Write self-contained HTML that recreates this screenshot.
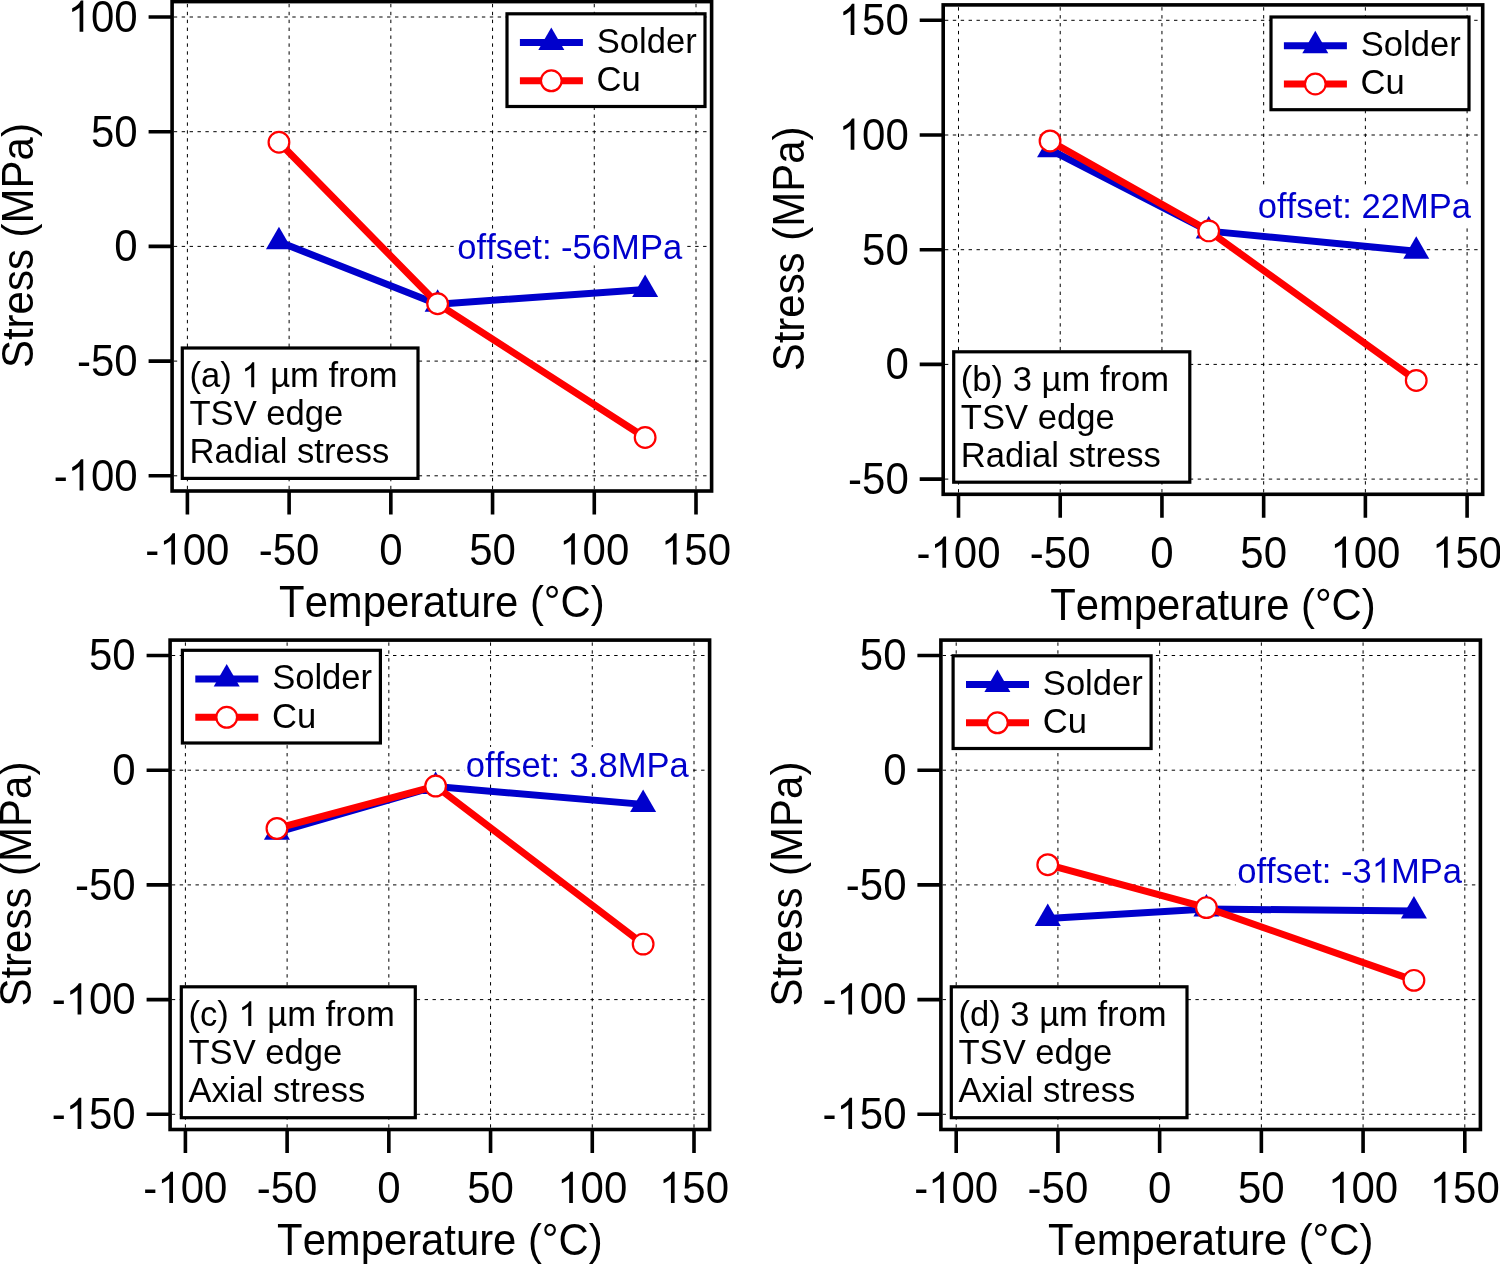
<!DOCTYPE html>
<html><head><meta charset="utf-8"><title>Stress vs Temperature</title>
<style>html,body{margin:0;padding:0;background:#fff;}body{width:1500px;height:1264px;overflow:hidden;font-family:"Liberation Sans",sans-serif;}svg{display:block;will-change:transform;}text{font-kerning:none;font-feature-settings:"kern" 0;}</style>
</head><body>
<svg width="1500" height="1264" viewBox="0 0 1500 1264" font-family='&quot;Liberation Sans&quot;, sans-serif'>
<rect width="1500" height="1264" fill="#fff"/>
<g stroke="#000" stroke-width="1" stroke-dasharray="3.4 4.5"><line x1="187.4" y1="3.9" x2="187.4" y2="489.2"/><line x1="289.12" y1="3.9" x2="289.12" y2="489.2"/><line x1="390.84" y1="3.9" x2="390.84" y2="489.2"/><line x1="492.56" y1="3.9" x2="492.56" y2="489.2"/><line x1="594.28" y1="3.9" x2="594.28" y2="489.2"/><line x1="696" y1="3.9" x2="696" y2="489.2"/><line x1="173.8" y1="17" x2="709.8" y2="17"/><line x1="173.8" y1="131.7" x2="709.8" y2="131.7"/><line x1="173.8" y1="246.4" x2="709.8" y2="246.4"/><line x1="173.8" y1="361.1" x2="709.8" y2="361.1"/><line x1="173.8" y1="475.8" x2="709.8" y2="475.8"/></g>
<rect x="455.8" y="229.4" width="227.89" height="36" fill="#fff"/>
<g transform="translate(457.31 259.4)" fill="#0000cc"><text font-size="34.6">offset: -56MPa</text></g>
<polyline points="278.95,241.81 437.63,304.21 645.14,289.53" fill="none" stroke="#0000cc" stroke-width="7" stroke-linejoin="round"/>
<path d="M278.95 226.81L291.95 249.31L265.95 249.31Z" fill="#0000cc"/>
<path d="M437.63 289.21L450.63 311.71L424.63 311.71Z" fill="#0000cc"/>
<path d="M645.14 274.53L658.14 297.03L632.14 297.03Z" fill="#0000cc"/>
<polyline points="278.95,142.25 437.63,303.75 645.14,437.49" fill="none" stroke="#ff0000" stroke-width="7" stroke-linejoin="round"/>
<circle cx="278.95" cy="142.25" r="10.35" fill="#fff" stroke="#ff0000" stroke-width="2.2"/>
<circle cx="437.63" cy="303.75" r="10.35" fill="#fff" stroke="#ff0000" stroke-width="2.2"/>
<circle cx="645.14" cy="437.49" r="10.35" fill="#fff" stroke="#ff0000" stroke-width="2.2"/>
<rect x="507" y="13.8" width="198" height="92.7" fill="#fff" stroke="#000" stroke-width="3.2"/>
<line x1="519.9" y1="42.5" x2="582.9" y2="42.5" stroke="#0000cc" stroke-width="7"/>
<path d="M551.3 27.5L564.3 50L538.3 50Z" fill="#0000cc"/>
<line x1="519.9" y1="80.8" x2="582.9" y2="80.8" stroke="#ff0000" stroke-width="7"/>
<circle cx="551.3" cy="80.8" r="10.35" fill="#fff" stroke="#ff0000" stroke-width="2.2"/>
<text x="596.74" y="52.9" font-size="34.6">Solder</text>
<text x="596.57" y="91.1" font-size="34.6">Cu</text>
<rect x="182.3" y="348" width="235.7" height="130.4" fill="#fff" stroke="#000" stroke-width="3.2"/>
<g transform="translate(189.45 387.2)"><text font-size="34.6">(a)   µm from</text><path d="M64.79 0L61.75 0L61.75 -19.38Q60.65 -18.33 58.87 -17.28Q57.09 -16.24 55.67 -15.71L55.67 -18.65Q58.22 -19.85 60.13 -21.56Q62.04 -23.26 62.83 -24.87L64.79 -24.87Z"/></g>
<g transform="translate(189.45 425.3)"><text font-size="34.6">TSV edge</text></g>
<g transform="translate(189.45 463.4)"><text font-size="34.6">Radial stress</text></g>
<rect x="172.1" y="1.6" width="539.5" height="489.4" fill="none" stroke="#000" stroke-width="3.6"/>
<path d="M187.4 491V514.5M289.12 491V514.5M390.84 491V514.5M492.56 491V514.5M594.28 491V514.5M696 491V514.5M172.1 17H148.6M172.1 131.7H148.6M172.1 246.4H148.6M172.1 361.1H148.6M172.1 475.8H148.6" stroke="#000" stroke-width="3.6" fill="none"/>
<g transform="translate(145.37 564.5) scale(1 1.035)"><text font-size="42">- 00</text><path d="M29.63 0L25.94 0L25.94 -23.52Q24.61 -22.25 22.45 -20.98Q20.28 -19.71 18.56 -19.07L18.56 -22.64Q21.66 -24.1 23.97 -26.17Q26.29 -28.24 27.25 -30.19L29.63 -30.19Z"/></g>
<g transform="translate(258.77 564.5) scale(1 1.035)"><text font-size="42">-50</text></g>
<g transform="translate(379.16 564.5) scale(1 1.035)"><text font-size="42">0</text></g>
<g transform="translate(469.2 564.5) scale(1 1.035)"><text font-size="42">50</text></g>
<g transform="translate(559.24 564.5) scale(1 1.035)"><text font-size="42"> 00</text><path d="M15.65 0L11.96 0L11.96 -23.52Q10.62 -22.25 8.46 -20.98Q6.3 -19.71 4.57 -19.07L4.57 -22.64Q7.67 -24.1 9.99 -26.17Q12.3 -28.24 13.27 -30.19L15.65 -30.19Z"/></g>
<g transform="translate(660.96 564.5) scale(1 1.035)"><text font-size="42"> 50</text><path d="M15.65 0L11.96 0L11.96 -23.52Q10.62 -22.25 8.46 -20.98Q6.3 -19.71 4.57 -19.07L4.57 -22.64Q7.67 -24.1 9.99 -26.17Q12.3 -28.24 13.27 -30.19L15.65 -30.19Z"/></g>
<g transform="translate(67.62 31.8) scale(1 1.035)"><text font-size="42"> 00</text><path d="M15.65 0L11.96 0L11.96 -23.52Q10.62 -22.25 8.46 -20.98Q6.3 -19.71 4.57 -19.07L4.57 -22.64Q7.67 -24.1 9.99 -26.17Q12.3 -28.24 13.27 -30.19L15.65 -30.19Z"/></g>
<g transform="translate(90.98 146.5) scale(1 1.035)"><text font-size="42">50</text></g>
<g transform="translate(114.34 261.2) scale(1 1.035)"><text font-size="42">0</text></g>
<g transform="translate(77 375.9) scale(1 1.035)"><text font-size="42">-50</text></g>
<g transform="translate(53.64 490.6) scale(1 1.035)"><text font-size="42">- 00</text><path d="M29.63 0L25.94 0L25.94 -23.52Q24.61 -22.25 22.45 -20.98Q20.28 -19.71 18.56 -19.07L18.56 -22.64Q21.66 -24.1 23.97 -26.17Q26.29 -28.24 27.25 -30.19L29.63 -30.19Z"/></g>
<text transform="translate(441.85 616.7) scale(1 1.04)" font-size="41.8" text-anchor="middle">Temperature (°C)</text>
<text transform="translate(32.8 245.6) rotate(-90) scale(1 1.045)" font-size="42" text-anchor="middle">Stress (MPa)</text>
<g stroke="#000" stroke-width="1" stroke-dasharray="3.4 4.5"><line x1="958.5" y1="7.2" x2="958.5" y2="492.5"/><line x1="1060.22" y1="7.2" x2="1060.22" y2="492.5"/><line x1="1161.94" y1="7.2" x2="1161.94" y2="492.5"/><line x1="1263.66" y1="7.2" x2="1263.66" y2="492.5"/><line x1="1365.38" y1="7.2" x2="1365.38" y2="492.5"/><line x1="1467.1" y1="7.2" x2="1467.1" y2="492.5"/><line x1="944.9" y1="20.3" x2="1480.9" y2="20.3"/><line x1="944.9" y1="135" x2="1480.9" y2="135"/><line x1="944.9" y1="249.7" x2="1480.9" y2="249.7"/><line x1="944.9" y1="364.4" x2="1480.9" y2="364.4"/><line x1="944.9" y1="479.1" x2="1480.9" y2="479.1"/></g>
<rect x="1256.2" y="188" width="227.89" height="36" fill="#fff"/>
<g transform="translate(1257.71 218)" fill="#0000cc"><text font-size="34.6">offset: 22MPa</text></g>
<polyline points="1050.05,149.68 1208.73,231.12 1416.24,251.31" fill="none" stroke="#0000cc" stroke-width="7" stroke-linejoin="round"/>
<path d="M1050.05 134.68L1063.05 157.18L1037.05 157.18Z" fill="#0000cc"/>
<path d="M1208.73 216.12L1221.73 238.62L1195.73 238.62Z" fill="#0000cc"/>
<path d="M1416.24 236.31L1429.24 258.81L1403.24 258.81Z" fill="#0000cc"/>
<polyline points="1050.05,140.96 1208.73,230.89 1416.24,380.46" fill="none" stroke="#ff0000" stroke-width="7" stroke-linejoin="round"/>
<circle cx="1050.05" cy="140.96" r="10.35" fill="#fff" stroke="#ff0000" stroke-width="2.2"/>
<circle cx="1208.73" cy="230.89" r="10.35" fill="#fff" stroke="#ff0000" stroke-width="2.2"/>
<circle cx="1416.24" cy="380.46" r="10.35" fill="#fff" stroke="#ff0000" stroke-width="2.2"/>
<rect x="1271" y="17" width="198" height="92.7" fill="#fff" stroke="#000" stroke-width="3.2"/>
<line x1="1283.9" y1="45.7" x2="1346.9" y2="45.7" stroke="#0000cc" stroke-width="7"/>
<path d="M1315.3 30.7L1328.3 53.2L1302.3 53.2Z" fill="#0000cc"/>
<line x1="1283.9" y1="84" x2="1346.9" y2="84" stroke="#ff0000" stroke-width="7"/>
<circle cx="1315.3" cy="84" r="10.35" fill="#fff" stroke="#ff0000" stroke-width="2.2"/>
<text x="1360.74" y="56.1" font-size="34.6">Solder</text>
<text x="1360.57" y="94.3" font-size="34.6">Cu</text>
<rect x="953.7" y="351.8" width="236.1" height="130.4" fill="#fff" stroke="#000" stroke-width="3.2"/>
<g transform="translate(960.85 391)"><text font-size="34.6">(b) 3 µm from</text></g>
<g transform="translate(960.85 429.1)"><text font-size="34.6">TSV edge</text></g>
<g transform="translate(960.85 467.2)"><text font-size="34.6">Radial stress</text></g>
<rect x="943.2" y="4.9" width="539.5" height="489.4" fill="none" stroke="#000" stroke-width="3.6"/>
<path d="M958.5 494.3V517.8M1060.22 494.3V517.8M1161.94 494.3V517.8M1263.66 494.3V517.8M1365.38 494.3V517.8M1467.1 494.3V517.8M943.2 20.3H919.7M943.2 135H919.7M943.2 249.7H919.7M943.2 364.4H919.7M943.2 479.1H919.7" stroke="#000" stroke-width="3.6" fill="none"/>
<g transform="translate(916.47 567.8) scale(1 1.035)"><text font-size="42">- 00</text><path d="M29.63 0L25.94 0L25.94 -23.52Q24.61 -22.25 22.45 -20.98Q20.28 -19.71 18.56 -19.07L18.56 -22.64Q21.66 -24.1 23.97 -26.17Q26.29 -28.24 27.25 -30.19L29.63 -30.19Z"/></g>
<g transform="translate(1029.87 567.8) scale(1 1.035)"><text font-size="42">-50</text></g>
<g transform="translate(1150.26 567.8) scale(1 1.035)"><text font-size="42">0</text></g>
<g transform="translate(1240.3 567.8) scale(1 1.035)"><text font-size="42">50</text></g>
<g transform="translate(1330.34 567.8) scale(1 1.035)"><text font-size="42"> 00</text><path d="M15.65 0L11.96 0L11.96 -23.52Q10.62 -22.25 8.46 -20.98Q6.3 -19.71 4.57 -19.07L4.57 -22.64Q7.67 -24.1 9.99 -26.17Q12.3 -28.24 13.27 -30.19L15.65 -30.19Z"/></g>
<g transform="translate(1432.06 567.8) scale(1 1.035)"><text font-size="42"> 50</text><path d="M15.65 0L11.96 0L11.96 -23.52Q10.62 -22.25 8.46 -20.98Q6.3 -19.71 4.57 -19.07L4.57 -22.64Q7.67 -24.1 9.99 -26.17Q12.3 -28.24 13.27 -30.19L15.65 -30.19Z"/></g>
<g transform="translate(838.72 35.1) scale(1 1.035)"><text font-size="42"> 50</text><path d="M15.65 0L11.96 0L11.96 -23.52Q10.62 -22.25 8.46 -20.98Q6.3 -19.71 4.57 -19.07L4.57 -22.64Q7.67 -24.1 9.99 -26.17Q12.3 -28.24 13.27 -30.19L15.65 -30.19Z"/></g>
<g transform="translate(838.72 149.8) scale(1 1.035)"><text font-size="42"> 00</text><path d="M15.65 0L11.96 0L11.96 -23.52Q10.62 -22.25 8.46 -20.98Q6.3 -19.71 4.57 -19.07L4.57 -22.64Q7.67 -24.1 9.99 -26.17Q12.3 -28.24 13.27 -30.19L15.65 -30.19Z"/></g>
<g transform="translate(862.08 264.5) scale(1 1.035)"><text font-size="42">50</text></g>
<g transform="translate(885.44 379.2) scale(1 1.035)"><text font-size="42">0</text></g>
<g transform="translate(848.1 493.9) scale(1 1.035)"><text font-size="42">-50</text></g>
<text transform="translate(1212.95 620) scale(1 1.04)" font-size="41.8" text-anchor="middle">Temperature (°C)</text>
<text transform="translate(803.9 248.9) rotate(-90) scale(1 1.045)" font-size="42" text-anchor="middle">Stress (MPa)</text>
<g stroke="#000" stroke-width="1" stroke-dasharray="3.4 4.5"><line x1="185.4" y1="642.4" x2="185.4" y2="1127.7"/><line x1="287.12" y1="642.4" x2="287.12" y2="1127.7"/><line x1="388.84" y1="642.4" x2="388.84" y2="1127.7"/><line x1="490.56" y1="642.4" x2="490.56" y2="1127.7"/><line x1="592.28" y1="642.4" x2="592.28" y2="1127.7"/><line x1="694" y1="642.4" x2="694" y2="1127.7"/><line x1="171.8" y1="655.5" x2="707.8" y2="655.5"/><line x1="171.8" y1="770.2" x2="707.8" y2="770.2"/><line x1="171.8" y1="884.9" x2="707.8" y2="884.9"/><line x1="171.8" y1="999.6" x2="707.8" y2="999.6"/><line x1="171.8" y1="1114.3" x2="707.8" y2="1114.3"/></g>
<rect x="464.3" y="746.9" width="227.89" height="36" fill="#fff"/>
<g transform="translate(465.81 776.9)" fill="#0000cc"><text font-size="34.6">offset: 3.8MPa</text></g>
<polyline points="276.95,832.37 435.63,786.49 643.14,804.38" fill="none" stroke="#0000cc" stroke-width="7" stroke-linejoin="round"/>
<path d="M276.95 817.37L289.95 839.87L263.95 839.87Z" fill="#0000cc"/>
<path d="M435.63 771.49L448.63 793.99L422.63 793.99Z" fill="#0000cc"/>
<path d="M643.14 789.38L656.14 811.88L630.14 811.88Z" fill="#0000cc"/>
<polyline points="276.95,828.47 435.63,786.03 643.14,944.09" fill="none" stroke="#ff0000" stroke-width="7" stroke-linejoin="round"/>
<circle cx="276.95" cy="828.47" r="10.35" fill="#fff" stroke="#ff0000" stroke-width="2.2"/>
<circle cx="435.63" cy="786.03" r="10.35" fill="#fff" stroke="#ff0000" stroke-width="2.2"/>
<circle cx="643.14" cy="944.09" r="10.35" fill="#fff" stroke="#ff0000" stroke-width="2.2"/>
<rect x="182.4" y="650.3" width="198" height="92.7" fill="#fff" stroke="#000" stroke-width="3.2"/>
<line x1="195.3" y1="679" x2="258.3" y2="679" stroke="#0000cc" stroke-width="7"/>
<path d="M226.7 664L239.7 686.5L213.7 686.5Z" fill="#0000cc"/>
<line x1="195.3" y1="717.3" x2="258.3" y2="717.3" stroke="#ff0000" stroke-width="7"/>
<circle cx="226.7" cy="717.3" r="10.35" fill="#fff" stroke="#ff0000" stroke-width="2.2"/>
<text x="272.14" y="689.4" font-size="34.6">Solder</text>
<text x="271.97" y="727.6" font-size="34.6">Cu</text>
<rect x="181.3" y="986.8" width="234" height="130.9" fill="#fff" stroke="#000" stroke-width="3.2"/>
<g transform="translate(188.45 1026)"><text font-size="34.6">(c)   µm from</text><path d="M62.85 0L59.81 0L59.81 -19.38Q58.71 -18.33 56.93 -17.28Q55.14 -16.24 53.72 -15.71L53.72 -18.65Q56.28 -19.85 58.18 -21.56Q60.09 -23.26 60.89 -24.87L62.85 -24.87Z"/></g>
<g transform="translate(188.45 1064.1)"><text font-size="34.6">TSV edge</text></g>
<g transform="translate(188.45 1102.2)"><text font-size="34.6">Axial stress</text></g>
<rect x="170.1" y="640.1" width="539.5" height="489.4" fill="none" stroke="#000" stroke-width="3.6"/>
<path d="M185.4 1129.5V1153M287.12 1129.5V1153M388.84 1129.5V1153M490.56 1129.5V1153M592.28 1129.5V1153M694 1129.5V1153M170.1 655.5H146.6M170.1 770.2H146.6M170.1 884.9H146.6M170.1 999.6H146.6M170.1 1114.3H146.6" stroke="#000" stroke-width="3.6" fill="none"/>
<g transform="translate(143.37 1203) scale(1 1.035)"><text font-size="42">- 00</text><path d="M29.63 0L25.94 0L25.94 -23.52Q24.61 -22.25 22.45 -20.98Q20.28 -19.71 18.56 -19.07L18.56 -22.64Q21.66 -24.1 23.97 -26.17Q26.29 -28.24 27.25 -30.19L29.63 -30.19Z"/></g>
<g transform="translate(256.77 1203) scale(1 1.035)"><text font-size="42">-50</text></g>
<g transform="translate(377.16 1203) scale(1 1.035)"><text font-size="42">0</text></g>
<g transform="translate(467.2 1203) scale(1 1.035)"><text font-size="42">50</text></g>
<g transform="translate(557.24 1203) scale(1 1.035)"><text font-size="42"> 00</text><path d="M15.65 0L11.96 0L11.96 -23.52Q10.62 -22.25 8.46 -20.98Q6.3 -19.71 4.57 -19.07L4.57 -22.64Q7.67 -24.1 9.99 -26.17Q12.3 -28.24 13.27 -30.19L15.65 -30.19Z"/></g>
<g transform="translate(658.96 1203) scale(1 1.035)"><text font-size="42"> 50</text><path d="M15.65 0L11.96 0L11.96 -23.52Q10.62 -22.25 8.46 -20.98Q6.3 -19.71 4.57 -19.07L4.57 -22.64Q7.67 -24.1 9.99 -26.17Q12.3 -28.24 13.27 -30.19L15.65 -30.19Z"/></g>
<g transform="translate(88.98 670.3) scale(1 1.035)"><text font-size="42">50</text></g>
<g transform="translate(112.34 785) scale(1 1.035)"><text font-size="42">0</text></g>
<g transform="translate(75 899.7) scale(1 1.035)"><text font-size="42">-50</text></g>
<g transform="translate(51.64 1014.4) scale(1 1.035)"><text font-size="42">- 00</text><path d="M29.63 0L25.94 0L25.94 -23.52Q24.61 -22.25 22.45 -20.98Q20.28 -19.71 18.56 -19.07L18.56 -22.64Q21.66 -24.1 23.97 -26.17Q26.29 -28.24 27.25 -30.19L29.63 -30.19Z"/></g>
<g transform="translate(51.64 1129.1) scale(1 1.035)"><text font-size="42">- 50</text><path d="M29.63 0L25.94 0L25.94 -23.52Q24.61 -22.25 22.45 -20.98Q20.28 -19.71 18.56 -19.07L18.56 -22.64Q21.66 -24.1 23.97 -26.17Q26.29 -28.24 27.25 -30.19L29.63 -30.19Z"/></g>
<text transform="translate(439.85 1255.2) scale(1 1.04)" font-size="41.8" text-anchor="middle">Temperature (°C)</text>
<text transform="translate(30.8 884.1) rotate(-90) scale(1 1.045)" font-size="42" text-anchor="middle">Stress (MPa)</text>
<g stroke="#000" stroke-width="1" stroke-dasharray="3.4 4.5"><line x1="956.2" y1="642.4" x2="956.2" y2="1127.7"/><line x1="1057.92" y1="642.4" x2="1057.92" y2="1127.7"/><line x1="1159.64" y1="642.4" x2="1159.64" y2="1127.7"/><line x1="1261.36" y1="642.4" x2="1261.36" y2="1127.7"/><line x1="1363.08" y1="642.4" x2="1363.08" y2="1127.7"/><line x1="1464.8" y1="642.4" x2="1464.8" y2="1127.7"/><line x1="942.6" y1="655.5" x2="1478.6" y2="655.5"/><line x1="942.6" y1="770.2" x2="1478.6" y2="770.2"/><line x1="942.6" y1="884.9" x2="1478.6" y2="884.9"/><line x1="942.6" y1="999.6" x2="1478.6" y2="999.6"/><line x1="942.6" y1="1114.3" x2="1478.6" y2="1114.3"/></g>
<rect x="1235.7" y="852.5" width="227.89" height="36" fill="#fff"/>
<g transform="translate(1237.21 882.5)" fill="#0000cc"><text font-size="34.6">offset: -3 MPa</text><path d="M147.51 0L144.47 0L144.47 -19.38Q143.37 -18.33 141.58 -17.28Q139.8 -16.24 138.38 -15.71L138.38 -18.65Q140.93 -19.85 142.84 -21.56Q144.75 -23.26 145.55 -24.87L147.51 -24.87Z"/></g>
<polyline points="1047.75,918.39 1206.43,908.99 1413.94,911.05" fill="none" stroke="#0000cc" stroke-width="7" stroke-linejoin="round"/>
<path d="M1047.75 903.39L1060.75 925.89L1034.75 925.89Z" fill="#0000cc"/>
<path d="M1206.43 893.99L1219.43 916.49L1193.43 916.49Z" fill="#0000cc"/>
<path d="M1413.94 896.05L1426.94 918.55L1400.94 918.55Z" fill="#0000cc"/>
<polyline points="1047.75,864.71 1206.43,907.61 1413.94,980.33" fill="none" stroke="#ff0000" stroke-width="7" stroke-linejoin="round"/>
<circle cx="1047.75" cy="864.71" r="10.35" fill="#fff" stroke="#ff0000" stroke-width="2.2"/>
<circle cx="1206.43" cy="907.61" r="10.35" fill="#fff" stroke="#ff0000" stroke-width="2.2"/>
<circle cx="1413.94" cy="980.33" r="10.35" fill="#fff" stroke="#ff0000" stroke-width="2.2"/>
<rect x="953.1" y="655.8" width="198" height="92.7" fill="#fff" stroke="#000" stroke-width="3.2"/>
<line x1="966" y1="684.5" x2="1029" y2="684.5" stroke="#0000cc" stroke-width="7"/>
<path d="M997.4 669.5L1010.4 692L984.4 692Z" fill="#0000cc"/>
<line x1="966" y1="722.8" x2="1029" y2="722.8" stroke="#ff0000" stroke-width="7"/>
<circle cx="997.4" cy="722.8" r="10.35" fill="#fff" stroke="#ff0000" stroke-width="2.2"/>
<text x="1042.84" y="694.9" font-size="34.6">Solder</text>
<text x="1042.67" y="733.1" font-size="34.6">Cu</text>
<rect x="951.3" y="986.8" width="235.7" height="130.9" fill="#fff" stroke="#000" stroke-width="3.2"/>
<g transform="translate(958.45 1026)"><text font-size="34.6">(d) 3 µm from</text></g>
<g transform="translate(958.45 1064.1)"><text font-size="34.6">TSV edge</text></g>
<g transform="translate(958.45 1102.2)"><text font-size="34.6">Axial stress</text></g>
<rect x="940.9" y="640.1" width="539.5" height="489.4" fill="none" stroke="#000" stroke-width="3.6"/>
<path d="M956.2 1129.5V1153M1057.92 1129.5V1153M1159.64 1129.5V1153M1261.36 1129.5V1153M1363.08 1129.5V1153M1464.8 1129.5V1153M940.9 655.5H917.4M940.9 770.2H917.4M940.9 884.9H917.4M940.9 999.6H917.4M940.9 1114.3H917.4" stroke="#000" stroke-width="3.6" fill="none"/>
<g transform="translate(914.17 1203) scale(1 1.035)"><text font-size="42">- 00</text><path d="M29.63 0L25.94 0L25.94 -23.52Q24.61 -22.25 22.45 -20.98Q20.28 -19.71 18.56 -19.07L18.56 -22.64Q21.66 -24.1 23.97 -26.17Q26.29 -28.24 27.25 -30.19L29.63 -30.19Z"/></g>
<g transform="translate(1027.57 1203) scale(1 1.035)"><text font-size="42">-50</text></g>
<g transform="translate(1147.96 1203) scale(1 1.035)"><text font-size="42">0</text></g>
<g transform="translate(1238 1203) scale(1 1.035)"><text font-size="42">50</text></g>
<g transform="translate(1328.04 1203) scale(1 1.035)"><text font-size="42"> 00</text><path d="M15.65 0L11.96 0L11.96 -23.52Q10.62 -22.25 8.46 -20.98Q6.3 -19.71 4.57 -19.07L4.57 -22.64Q7.67 -24.1 9.99 -26.17Q12.3 -28.24 13.27 -30.19L15.65 -30.19Z"/></g>
<g transform="translate(1429.76 1203) scale(1 1.035)"><text font-size="42"> 50</text><path d="M15.65 0L11.96 0L11.96 -23.52Q10.62 -22.25 8.46 -20.98Q6.3 -19.71 4.57 -19.07L4.57 -22.64Q7.67 -24.1 9.99 -26.17Q12.3 -28.24 13.27 -30.19L15.65 -30.19Z"/></g>
<g transform="translate(859.78 670.3) scale(1 1.035)"><text font-size="42">50</text></g>
<g transform="translate(883.14 785) scale(1 1.035)"><text font-size="42">0</text></g>
<g transform="translate(845.8 899.7) scale(1 1.035)"><text font-size="42">-50</text></g>
<g transform="translate(822.44 1014.4) scale(1 1.035)"><text font-size="42">- 00</text><path d="M29.63 0L25.94 0L25.94 -23.52Q24.61 -22.25 22.45 -20.98Q20.28 -19.71 18.56 -19.07L18.56 -22.64Q21.66 -24.1 23.97 -26.17Q26.29 -28.24 27.25 -30.19L29.63 -30.19Z"/></g>
<g transform="translate(822.44 1129.1) scale(1 1.035)"><text font-size="42">- 50</text><path d="M29.63 0L25.94 0L25.94 -23.52Q24.61 -22.25 22.45 -20.98Q20.28 -19.71 18.56 -19.07L18.56 -22.64Q21.66 -24.1 23.97 -26.17Q26.29 -28.24 27.25 -30.19L29.63 -30.19Z"/></g>
<text transform="translate(1210.65 1255.2) scale(1 1.04)" font-size="41.8" text-anchor="middle">Temperature (°C)</text>
<text transform="translate(801.6 884.1) rotate(-90) scale(1 1.045)" font-size="42" text-anchor="middle">Stress (MPa)</text>
</svg>
</body></html>
